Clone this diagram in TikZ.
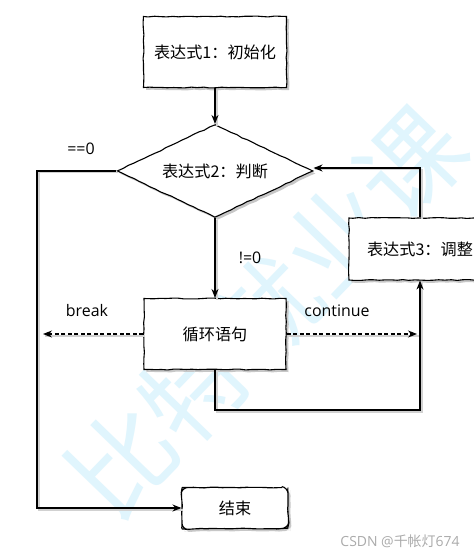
\documentclass[tikz,border=0pt]{standalone}
\usepackage{fontspec}
\setmainfont{Open Sans}
\newfontfamily\cjk{Noto Sans CJK SC}
\usetikzlibrary{shapes.geometric,arrows.meta,decorations.pathmorphing,shadows}
\begin{document}
\begin{tikzpicture}[x=1bp,y=-1bp,
  wob/.style={decorate,decoration={random steps,segment length=6bp,amplitude=0.45bp}},
  shad/.style={drop shadow={shadow xshift=2.5bp,shadow yshift=-2.5bp,fill=black!22,opacity=1}},
  box/.style={draw,line width=1.1bp,fill=white,wob,shad,inner sep=0,
    font=\cjk\fontsize{16.2}{19}\selectfont},
  lbl/.style={font=\fontsize{16}{19}\selectfont,inner sep=0},
  conn/.style={line width=1.1bp,-{Stealth[length=9bp,width=7bp]},
    preaction={draw=black!18,line width=1.4bp,-,transform canvas={xshift=1.8bp,yshift=-1.8bp}}},
  dconn/.style={conn,dashed,dash pattern=on 4bp off 2.5bp},
]
\useasboundingbox (0,0) rectangle (474,552);
\fill[white] (0,0) rectangle (474,552);
\clip (0,0) rectangle (474,552);

% watermark
\node[text=cyan!12,font=\cjk\fontsize{104}{110}\selectfont,rotate=46,inner sep=0] (wm) at (266,312) {比特就业课};

% nodes
\node[box,minimum width=143bp,minimum height=71bp] (init) at (215,52) {表达式1：初始化};
\node[box,diamond,aspect=2.1,minimum width=196bp,minimum height=93bp] (cond) at (215,171) {表达式2：判断};
\node[box,minimum width=142bp,minimum height=71bp] (loop) at (215,334) {循环语句};
\node[box,minimum width=142bp,minimum height=62bp] (adj) at (420,249) {表达式3：调整};
\node[box,rounded corners=6bp,minimum width=106bp,minimum height=41bp] (end) at (235,508) {结束};

% labels
\node[lbl] (l0) at (81,149) {==0};
\node[lbl] (l1) at (250,258) {!=0};
\node[lbl] (lb) at (87,311) {break};
\node[lbl] (lc) at (337,311) {continue};
\node[text=black!33,font=\fontsize{14}{16}\selectfont,inner sep=0] (csdn) at (400,541) {CSDN @{\cjk 千帐灯}674};

% coordinates
\coordinate (cl) at (37,171);
\coordinate (brk) at (43,334);
\coordinate (cnt) at (417,334);
\coordinate (lb1) at (215,410);
\coordinate (at) at (420,168);

% connectors
\draw[conn] (init.south) -- (cond.north);
\draw[conn] (cond.west) -- (cl) |- (end.west);
\draw[conn] (cond.south) -- (loop.north);
\draw[dconn] (loop.west |- brk) -- (brk);
\draw[dconn] (loop.east |- cnt) -- (cnt);
\draw[conn] (loop.south) -- (lb1) -| (adj.south);
\draw[conn] (adj.north) -- (at) -- (cond.east |- at);
\end{tikzpicture}
\end{document}
